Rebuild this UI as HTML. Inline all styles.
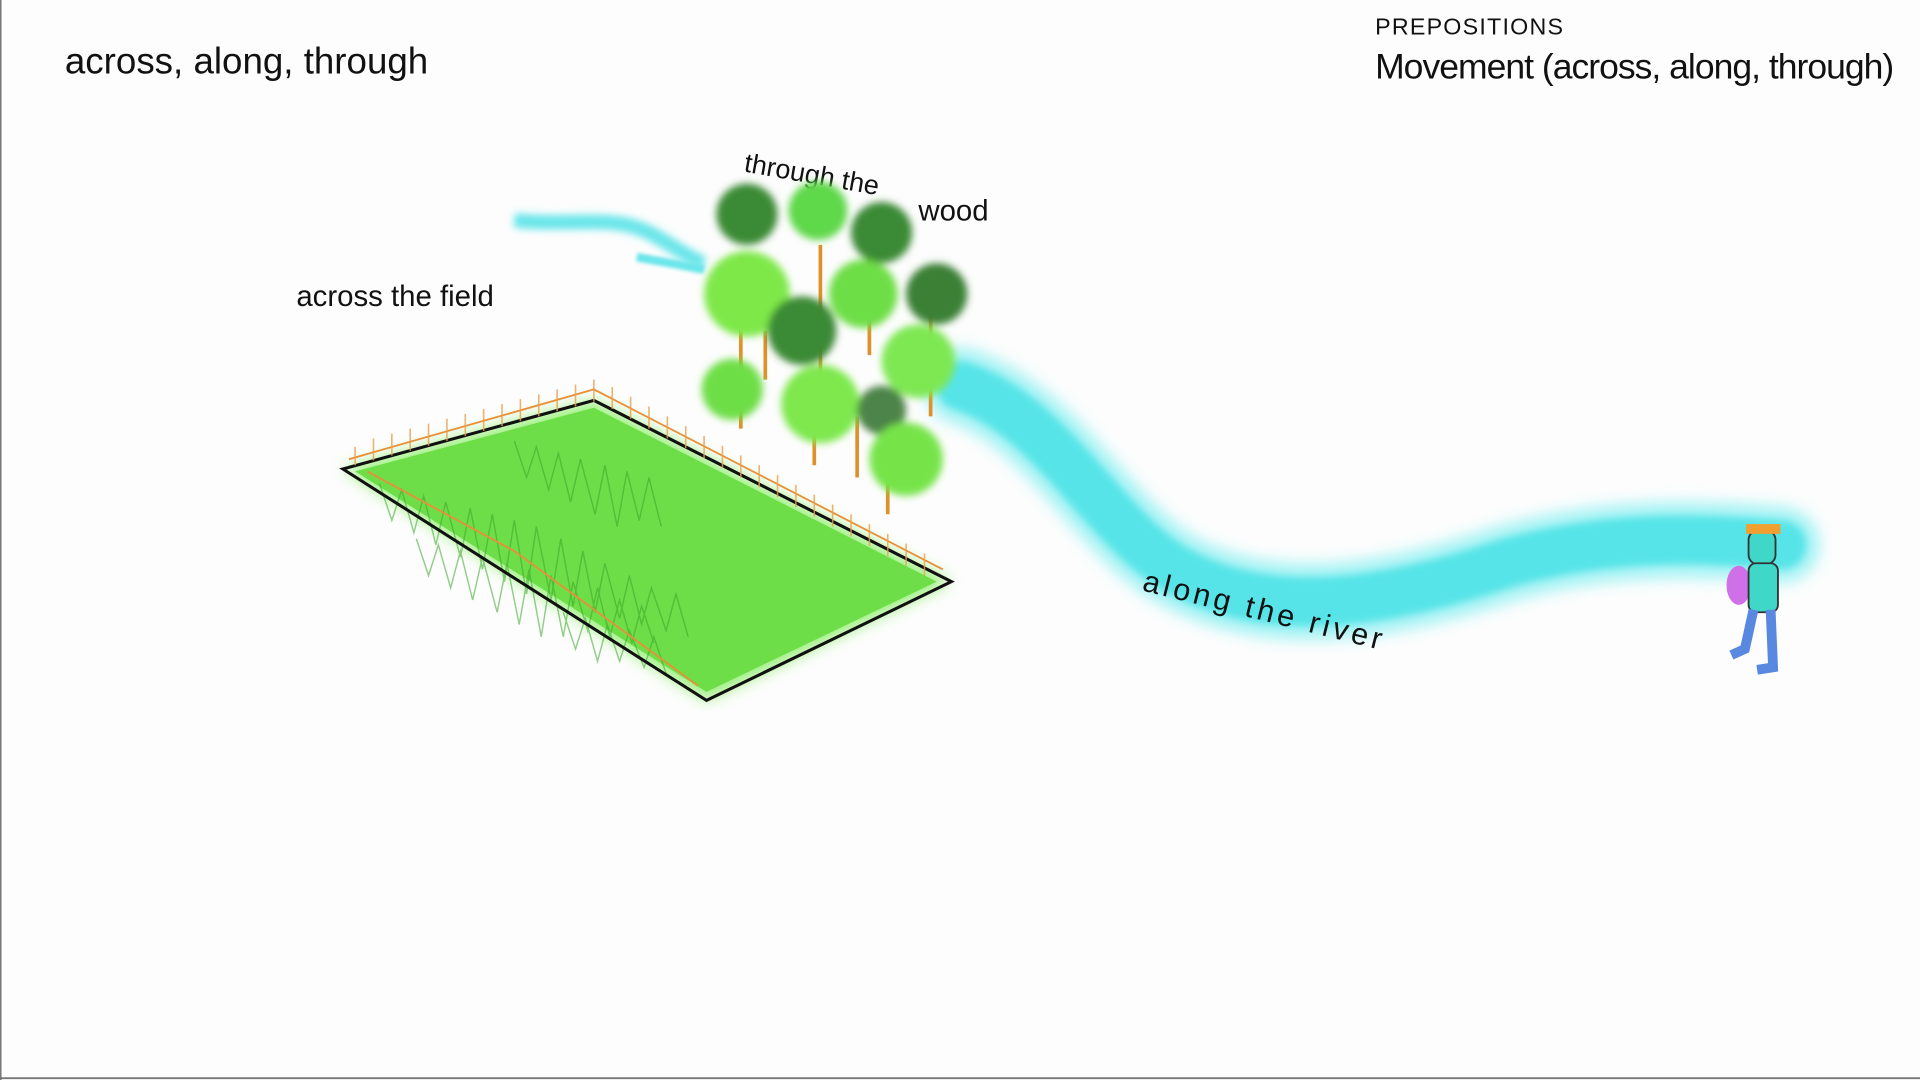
<!DOCTYPE html>
<html><head><meta charset="utf-8"><style>
html,body{margin:0;padding:0;background:#fdfdfd;width:1920px;height:1080px;overflow:hidden}
svg{display:block}
text{font-family:"Liberation Sans","DejaVu Sans",sans-serif;fill:#111}
</style></head><body>
<svg width="1920" height="1080" viewBox="0 0 1568 882" xmlns="http://www.w3.org/2000/svg">
<defs>
<filter id="b6" filterUnits="userSpaceOnUse" x="0" y="0" width="1568" height="882"><feGaussianBlur stdDeviation="6"/></filter>
<filter id="b3" filterUnits="userSpaceOnUse" x="0" y="0" width="1568" height="882"><feGaussianBlur stdDeviation="3"/></filter>
<filter id="b2" filterUnits="userSpaceOnUse" x="0" y="0" width="1568" height="882"><feGaussianBlur stdDeviation="1.5"/></filter>
</defs>
<rect width="1568" height="882" fill="#fdfdfd"/>
<line x1="0.5" y1="0" x2="0.5" y2="882" stroke="#777" stroke-width="1.5"/>
<line x1="0" y1="880.5" x2="1568" y2="880.5" stroke="#777" stroke-width="1.5"/>

<!-- river -->
<path d="M785 315 C860 340 900 430 960 465 C1040 510 1140 490 1230 460 C1320 435 1400 440 1455 445" fill="none" stroke="#8ef0f2" stroke-width="62" stroke-linecap="round" filter="url(#b6)" opacity="0.8"/>
<path d="M785 315 C860 340 900 430 960 465 C1040 510 1140 490 1230 460 C1320 435 1400 440 1455 445" fill="none" stroke="#48e2e6" stroke-width="40" stroke-linecap="round" filter="url(#b3)" opacity="0.85"/>
<path d="M420 180 C470 185 500 175 530 190 C550 200 560 210 575 215" fill="none" stroke="#6ae6ea" stroke-width="12" filter="url(#b3)"/>
<path d="M520 210 L575 220" fill="none" stroke="#6ae6ea" stroke-width="7" filter="url(#b2)"/>

<text x="53" y="60" font-size="30">across, along, through</text>
<text x="1123" y="28" font-size="19" letter-spacing="1">PREPOSITIONS</text>
<text x="1123" y="64" font-size="29" letter-spacing="-0.8">Movement (across, along, through)</text>
<text x="242" y="250" font-size="24">across the field</text>
<text x="607" y="140" font-size="22" transform="rotate(10 607 140)">through the</text>
<text x="750" y="180" font-size="24">wood</text>
<text x="932" y="482" font-size="25" letter-spacing="3" transform="rotate(14 932 482)">along the river</text>

<!-- field -->
<polygon points="280,383 485,327 777,475 577,572" fill="#9af07a" filter="url(#b6)"/>
<polygon points="290,385 485,333 765,475 577,565" fill="#6ede48"/>
<g stroke="#3aa82a" stroke-width="1.2" fill="none" opacity="0.55">
<path d="M310 395 l10 30 l8 -25 l10 35 l8 -30 l10 40 l8 -35 l12 45 l8 -40 l10 50 l8 -45 l10 55 l8 -50 l10 60 l8 -55 l12 60 l8 -50 l10 55 l8 -45 l10 50 l8 -40 l12 45 l8 -35 l10 40 l8 -30 l12 35 l8 -30 l10 35"/>
<path d="M340 440 l10 30 l8 -25 l10 35 l8 -30 l10 40 l8 -35 l12 45 l8 -40 l10 50 l8 -45 l10 55 l8 -50 l10 50 l8 -45 l12 40 l8 -35 l10 40 l8 -30 l10 35 l8 -30 l10 30"/>
<path d="M420 360 l10 30 l8 -25 l10 35 l8 -30 l10 40 l8 -35 l12 45 l8 -40 l10 50 l8 -45 l10 40 l8 -35 l10 40"/>
<path d="M460 500 l10 30 l8 -25 l10 35 l8 -30 l10 30 l8 -25 l12 30 l8 -25 l10 30"/>
</g>
<path d="M280 383 L485 327 L777 475 L577 572 Z" fill="none" stroke="#111" stroke-width="2.5"/>
<g stroke="#e8903a" stroke-width="1.5">
<path d="M285 375 L485 318 L770 465" fill="none"/>
<path d="M300 385 L420 450 L570 560" fill="none"/>
</g>
<g stroke="#e8a050" stroke-width="1.3" opacity="0.8">
<path d="M290 380v-15M305 376v-18M320 372v-18M335 368v-18M350 364v-18M365 360v-18M380 356v-18M395 352v-18M410 348v-18M425 344v-18M440 340v-18M455 336v-18M470 332v-18M485 328v-18M500 334v-18M515 342v-18M530 350v-18M545 358v-18M560 366v-18M575 374v-18M590 382v-18M605 390v-18M620 398v-18M635 406v-18M650 414v-18M665 422v-18M680 430v-18M695 438v-18M710 446v-18M725 454v-18M740 462v-18M755 470v-18"/>
</g>

<!-- trees -->
<g stroke="#e0902a" stroke-width="3">
<path d="M605 210v140M670 200v120M710 210v80M625 270v40M665 330v50M700 340v50M725 360v60M760 250v90M605 310v40"/>
</g>
<g filter="url(#b3)">
<circle cx="610" cy="175" r="25" fill="#3a8a36"/>
<circle cx="668" cy="172" r="24" fill="#5fd84a"/>
<circle cx="720" cy="190" r="25" fill="#3a8a36"/>
<circle cx="610" cy="240" r="35" fill="#7ee84a"/>
<circle cx="705" cy="240" r="28" fill="#6ede46"/>
<circle cx="765" cy="240" r="25" fill="#3a8036"/>
<circle cx="655" cy="270" r="28" fill="#3a8a36"/>
<circle cx="750" cy="295" r="30" fill="#7ee852"/>
<circle cx="598" cy="318" r="25" fill="#6ede46"/>
<circle cx="670" cy="330" r="32" fill="#7ee84e"/>
<circle cx="720" cy="335" r="20" fill="#4e8448"/>
<circle cx="740" cy="375" r="30" fill="#76e44a"/>
</g>

<!-- person -->
<g>
<ellipse cx="1420" cy="478" rx="10" ry="16" fill="#d070e8"/>
<rect x="1428" y="433" width="22" height="28" rx="8" fill="#3fd8c8" stroke="#333" stroke-width="1.5"/>
<rect x="1426" y="428" width="28" height="8" fill="#f0a030"/>
<rect x="1428" y="460" width="24" height="40" rx="6" fill="#3fd8c8" stroke="#333" stroke-width="1.5"/>
<path d="M1432 498 L1425 530 L1414 535 M1446 498 L1448 545 L1435 547" stroke="#5888e0" stroke-width="8" fill="none"/>
</g>
</svg>
</body></html>
